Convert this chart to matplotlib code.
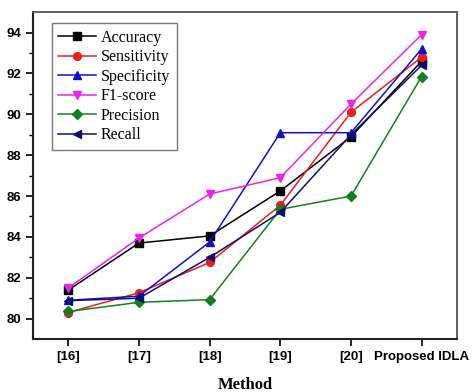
from matplotlib import pyplot as plt

methods = ['[16]', '[17]', '[18]', '[19]', '[20]', 'Proposed IDLA']
accuracy = [81.4, 83.7, 84.05, 86.25, 88.9, 92.6]
sensitivity = [80.3, 81.27, 82.75, 85.55, 90.1, 92.8]
specificity = [80.9, 81.1, 83.75, 89.1, 89.1, 93.2]
f1_score = [81.5, 83.95, 86.1, 86.9, 90.5, 93.9]
precision = [80.35, 80.8, 80.93, 85.35, 86.0, 91.85]
recall = [80.88, 81.0, 83.0, 85.2, 89.0, 92.4]

series = [
    ('Accuracy', accuracy, 'black', 's'),
    ('Sensitivity', sensitivity, '#e8201c', 'o'),
    ('Specificity', specificity, '#1010c8', '^'),
    ('F1-score', f1_score, '#ee22ee', 'v'),
    ('Precision', precision, '#14801c', 'D'),
    ('Recall', recall, '#101070', '<'),
]

fig = plt.figure(figsize=(4.74, 3.92), dpi=100)
ax = fig.add_axes([0.0696, 0.135, 0.8945, 0.834])

x = list(range(len(methods)))
for name, vals, col, mk in series:
    ms = 4.8 if mk == 'D' else 5.6
    ax.plot(x, vals, color=col, marker=mk, markersize=ms, linewidth=1.1, label=name)

ax.set_xlim(-0.5, 5.5)
ax.set_ylim(79, 95)
ax.set_xticks(x)
ax.set_xticklabels(methods)
ax.set_yticks([80, 82, 84, 86, 88, 90, 92, 94])
ax.set_yticks([81, 83, 85, 87, 89, 91, 93], minor=True)
for lab in ax.get_xticklabels() + ax.get_yticklabels():
    lab.set_family('Liberation Sans')
    lab.set_fontweight('bold')
    lab.set_fontsize(9.5)
ax.tick_params(axis='both', which='major', direction='out', length=5, width=1.2)
ax.tick_params(axis='y', which='minor', direction='out', length=3, width=1.0)
for side in ['left', 'bottom']:
    ax.spines[side].set_linewidth(1.5)
    ax.spines[side].set_color('#222222')
for side in ['top', 'right']:
    ax.spines[side].set_linewidth(1.3)
    ax.spines[side].set_color('#555555')

ax.set_xlabel('Method', family='Liberation Serif', fontweight='bold', fontsize=12, labelpad=10)

leg = ax.legend(loc='upper left', bbox_to_anchor=(0.025, 0.99), prop={'family': 'Liberation Serif', 'size': 11.5},
                handlelength=2.4, labelspacing=0.22, borderpad=0.4, handletextpad=0.3,
                fancybox=False, edgecolor='#777777', framealpha=1)
leg.get_frame().set_linewidth(1.0)

fig.savefig('out.png', dpi=100)
